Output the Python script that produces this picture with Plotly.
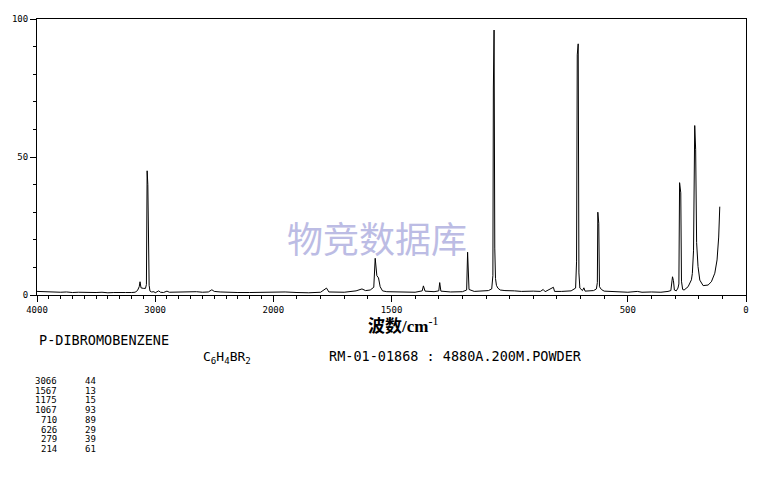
import plotly.graph_objects as go

# ---- spectrum (wavenumber cm-1, intensity) ----
wavenumber = [4000, 3950, 3900, 3850, 3800, 3750, 3700, 3650, 3600, 3550, 3500, 3450, 3400,
              3350, 3300, 3250, 3200, 3170, 3150, 3135, 3128, 3120, 3100, 3082, 3074, 3068,
              3062, 3056, 3051, 3044, 3030, 3010, 3000, 2970, 2955, 2930, 2900, 2880, 2800,
              2750, 2700, 2650, 2600, 2550, 2520, 2500, 2450, 2400, 2300, 2200, 2100, 2050,
              2000, 1950, 1900, 1850, 1800, 1775, 1765, 1700, 1650, 1625, 1610, 1590, 1575,
              1569, 1562, 1555, 1548, 1538, 1520, 1480, 1450, 1400, 1370, 1365, 1358, 1320,
              1300, 1296, 1291, 1250, 1200, 1182, 1178, 1172, 1150, 1120, 1090, 1076, 1071,
              1069, 1066, 1063, 1060, 1056, 1050, 1040, 1020, 980, 950, 900, 870, 858, 850,
              815, 810, 780, 740, 721, 717, 714, 710, 707, 703, 692, 686, 681, 660, 645, 633,
              629, 627, 623, 620, 612, 600, 560, 500, 460, 440, 400, 360, 330, 318, 311, 307,
              303, 295, 288, 284, 281, 276, 273, 268, 262, 245, 231, 227, 222, 217, 213, 209,
              203, 195.5, 181.5, 160.5, 146.5, 132, 122.5, 115.5, 111]
intensity = [1.3, 1.2, 1.1, 1.2, 1.0, 1.1, 0.9, 1.0, 0.9, 1.0, 0.9, 1.0, 0.8,
             0.9, 0.8, 0.9, 0.9, 1.0, 1.6, 3.0, 4.8, 2.6, 2.4, 2.4, 3.8, 45,
             40, 13, 3.5, 1.4, 1.1, 1.2, 0.8, 1.5, 1.0, 0.9, 1.4, 1.0, 1.1,
             1.0, 1.1, 1.2, 1.0, 1.1, 1.9, 1.3, 1.1, 1.0, 0.9, 0.9, 1.0, 0.9,
             1.0, 1.1, 0.9, 0.8, 1.0, 2.5, 1.1, 1.0, 1.5, 2.2, 1.6, 1.8, 2.8,
             13.3, 7, 6.2, 3, 1.5, 1.2, 1.1, 1.2, 1.0, 1.5, 3.3, 1.4, 1.2,
             1.5, 4.5, 1.4, 1.1, 1.2, 1.8, 15.5, 2.0, 1.3, 1.4, 1.6, 2.2, 7,
             75, 96, 17, 6, 3.5, 2.5, 1.8, 1.6, 1.5, 1.3, 1.4, 1.3, 2.0, 1.2,
             2.8, 1.3, 1.3, 1.5, 2.5, 12, 87, 91, 8, 2.5, 1.6, 2.6, 1.4, 1.4, 1.6, 2.2,
             4.5, 30, 26, 3, 2, 1.4, 1.2, 1.0, 1.3, 1.0, 1.1, 1.0, 1.3, 1.6, 6.6, 5.2,
             1.8, 1.5, 2.5, 4, 40.7, 37, 5, 2, 1.8, 3, 5.5, 7.8, 16, 61.4, 52.6, 19,
             10.3, 5.4, 3.4, 3.6, 4.8, 7.9, 12.7, 21, 32]

# axis labels
x_tick_labels = [4000, 3000, 2000, 1500, 500, 0]
y_tick_labels = [0, 50, 100]

# peak table
peak_wn = [3066, 1567, 1175, 1067, 710, 626, 279, 214]
peak_int = [44, 13, 15, 93, 89, 29, 39, 61]

title_name = "P-DIBROMOBENZENE"
formula = "C<sub>6</sub>H<sub>4</sub>BR<sub>2</sub>"
sample_info = "RM-01-01868 : 4880A.200M.POWDER"
x_title = "<b>波数/cm</b><sup>-1</sup>"
watermark = "物竞数据库"


# axis scale: above 2000 cm-1 the scale is compressed by half
def axis_pos(w):
    return w if w <= 2000 else 2000 + (w - 2000) / 2.0


u = [axis_pos(w) for w in wavenumber]

fig = go.Figure()
fig.add_trace(go.Scatter(x=u, y=intensity, mode="lines",
                         line=dict(color="black", width=1), hoverinfo="skip"))

W, H = 761, 477
L, R, T, B = 35, 14, 19, 182
pw, ph = W - L - R, H - T - B


def px(x):
    return (x - L) / pw


def py(y):
    return (H - B - y) / ph


minor_x = [axis_pos(w) for w in range(100, 4000, 100) if w not in x_tick_labels]
mono = "DejaVu Sans Mono"

fig.update_layout(
    width=W, height=H,
    margin=dict(l=L, r=R, t=T, b=B),
    plot_bgcolor="white", paper_bgcolor="white",
    showlegend=False,
    xaxis=dict(range=[axis_pos(4000), 0], tickmode="array",
               tickvals=[axis_pos(w) for w in x_tick_labels],
               ticktext=[str(w) for w in x_tick_labels],
               ticks="outside", ticklen=6, tickwidth=1, tickcolor="black",
               showline=True, linecolor="black", linewidth=1, mirror=True,
               showgrid=False, zeroline=False,
               tickfont=dict(family=mono, size=9, color="black"),
               minor=dict(tickmode="array", tickvals=minor_x, ticklen=3,
                          tickcolor="black", ticks="outside", showgrid=False)),
    yaxis=dict(range=[0, 100], tickmode="array",
               tickvals=y_tick_labels, ticktext=[str(v) for v in y_tick_labels],
               ticks="outside", ticklen=6, tickwidth=1, tickcolor="black",
               showline=True, linecolor="black", linewidth=1, mirror=True,
               showgrid=False, zeroline=False,
               tickfont=dict(family=mono, size=9, color="black"),
               minor=dict(tickmode="linear", tick0=0, dtick=10, ticklen=3,
                          tickcolor="black", ticks="outside", showgrid=False)),
)

ann = []
ann.append(dict(text=watermark, x=px(376), y=py(237), xref="paper", yref="paper",
                showarrow=False, xanchor="center", yanchor="middle",
                font=dict(family="Noto Sans CJK SC", size=36, color="#bcbce4")))
ann.append(dict(text=x_title, x=px(403), y=py(325), xref="paper", yref="paper",
                showarrow=False, xanchor="center", yanchor="middle",
                font=dict(family="Liberation Serif, Noto Sans CJK SC", size=17, color="black")))
ann.append(dict(text=title_name, x=px(35), y=py(340), xref="paper", yref="paper",
                showarrow=False, xanchor="left", yanchor="middle",
                font=dict(family=mono, size=13.5, color="black")))
ann.append(dict(text=formula, x=px(200), y=py(357), xref="paper", yref="paper",
                showarrow=False, xanchor="left", yanchor="middle",
                font=dict(family=mono, size=13, color="black")))
ann.append(dict(text=sample_info, x=px(326), y=py(356), xref="paper", yref="paper",
                showarrow=False, xanchor="left", yanchor="middle",
                font=dict(family=mono, size=13.5, color="black")))
for i, (w, v) in enumerate(zip(peak_wn, peak_int)):
    yy = 381 + 9.7 * i
    ann.append(dict(text=str(w), x=px(57), y=py(yy), xref="paper", yref="paper",
                    showarrow=False, xanchor="right", yanchor="middle",
                    font=dict(family=mono, size=9, color="black")))
    ann.append(dict(text=str(v), x=px(96), y=py(yy), xref="paper", yref="paper",
                    showarrow=False, xanchor="right", yanchor="middle",
                    font=dict(family=mono, size=9, color="black")))
fig.update_layout(annotations=ann)

fig.write_html("out.html", config={"displayModeBar": False},
               post_script="document.body.style.margin='0';document.body.style.padding='0';")
